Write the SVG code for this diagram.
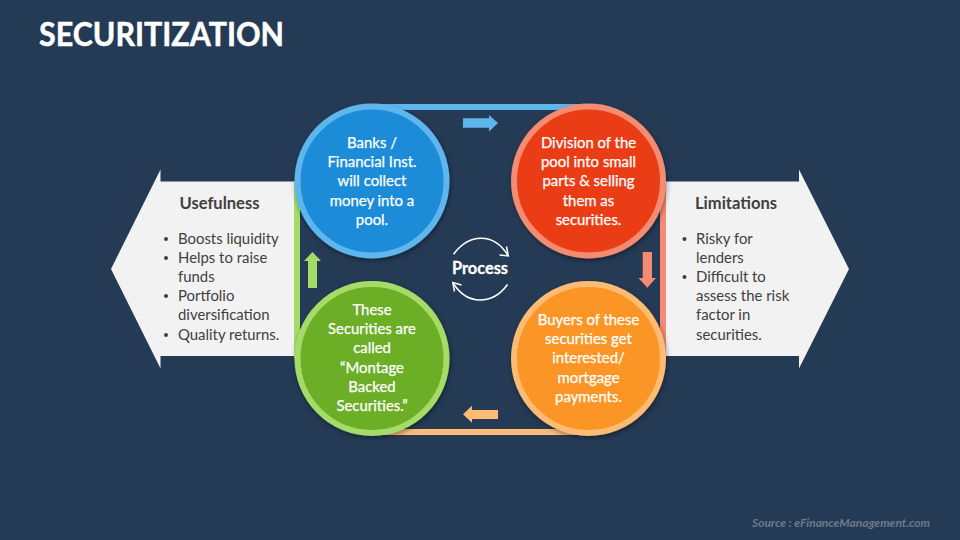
<svg xmlns="http://www.w3.org/2000/svg" width="960" height="540" viewBox="0 0 960 540">
<style>
text{font-family:"Lato","Liberation Sans",sans-serif}
.w{fill:#fff;font-size:14.9px;text-anchor:middle;stroke:#fff;stroke-width:.25px}
.d{fill:#404040;font-size:14.9px}
.h{fill:#404040;font-size:16.2px;font-weight:700}
.c{stroke-width:6;filter:url(#s)}
.f{fill:none;stroke-width:6}
.p{fill:none;stroke:#fff;stroke-width:1.5}
.b{fill:#404040}
</style>
<defs><filter id="s" x="-20%" y="-20%" width="140%" height="140%"><feDropShadow dx="1" dy="2" stdDeviation="2.5" flood-color="#000" flood-opacity=".4"/></filter></defs>
<rect width="960" height="540" fill="#243A55"/>
<text x="39" y="46" fill="#fff" stroke="#fff" stroke-width=".5" font-size="32" font-weight="700" textLength="245" lengthAdjust="spacingAndGlyphs">SECURITIZATION</text>
<g id="usefulness">
<polygon points="111,269 160.500,169.500 160.500,181.500 300,181.500 300,356 160.500,356 160.500,368.500" fill="#F2F2F2"/>
<text class="h" x="219.500" y="209" text-anchor="middle" textLength="80" lengthAdjust="spacingAndGlyphs">Usefulness</text>
<circle class="b" cx="166" cy="239" r="2"/><circle class="b" cx="166" cy="258" r="2"/><circle class="b" cx="166" cy="296" r="2"/><circle class="b" cx="166" cy="335" r="2"/>
<text class="d" x="178" y="243.500">Boosts liquidity</text>
<text class="d" x="178" y="262.700">Helps to raise</text>
<text class="d" x="178" y="281.900">funds</text>
<text class="d" x="178" y="301.100">Portfolio</text>
<text class="d" x="178" y="320.300">diversification</text>
<text class="d" x="178" y="339.500">Quality returns.</text>
</g>
<g id="limitations">
<polygon points="849,269 799,169.500 799,181.500 660,181.500 660,356 799,356 799,368.500" fill="#F2F2F2"/>
<text class="h" x="736" y="209" text-anchor="middle" textLength="82" lengthAdjust="spacingAndGlyphs">Limitations</text>
<circle class="b" cx="684.500" cy="239" r="2"/><circle class="b" cx="684.500" cy="277" r="2"/>
<text class="d" x="696" y="243.500">Risky for</text>
<text class="d" x="696" y="262.700">lenders</text>
<text class="d" x="696" y="281.900">Difficult to</text>
<text class="d" x="696" y="301.100">assess the risk</text>
<text class="d" x="696" y="320.300">factor in</text>
<text class="d" x="696" y="339.500">securities.</text>
</g>
<g id="connectors">
<path class="f" stroke="#5FB6EE" d="M372 107H588"/>
<path class="f" stroke="#F58B73" d="M663 181V358"/>
<path class="f" stroke="#FDBB73" d="M588 432H372"/>
<path class="f" stroke="#A5DC68" d="M297 358V181"/>
<polygon fill="#5FB6EE" points="463,118.300 489,118.300 489,115 498,123 489,131.500 489,127.700 463,127.700"/>
<polygon fill="#F58B73" points="642.700,252 652,252 652,278 656,278 647.300,287.700 638.500,278 642.700,278"/>
<polygon fill="#FDBB73" points="498,410 472,410 472,405.700 463,414.300 472,422.700 472,419 498,419"/>
<polygon fill="#A5DC68" points="308,288 317,288 317,261 321,261 312.500,252 304,261 308,261"/>
<path class="p" d="M453.500 254.300C462 243 472 238.300 481 238.300C491 238.300 501 244 508 255.500"/>
<path class="p" d="M506.500 246.500L508.300 256L499.500 255"/>
<path class="p" d="M507.500 284.500C500 295 490 300 480 300C470 300 460 294 453 283"/>
<path class="p" d="M454.500 291.500L452.800 282.500L461.500 285"/>
</g>
<g id="banks">
<circle class="c" cx="372" cy="181" r="74.500" fill="#1A8CD8" stroke="#5FB6EE"/>
<text class="w" x="372" y="147.500">Banks /</text>
<text class="w" x="372" y="166.700">Financial Inst.</text>
<text class="w" x="372" y="185.900">will collect</text>
<text class="w" x="372" y="205.500">money into a</text>
<text class="w" x="372" y="224.500">pool.</text>
</g>
<g id="division">
<circle class="c" cx="588.500" cy="181" r="74.500" fill="#EA3C12" stroke="#F58B73"/>
<text class="w" x="588.500" y="147.500">Division of the</text>
<text class="w" x="588.500" y="166.700">pool into small</text>
<text class="w" x="588.500" y="185.900">parts &amp; selling</text>
<text class="w" x="588.500" y="205.500">them as</text>
<text class="w" x="588.500" y="224.500">securities.</text>
</g>
<g id="buyers">
<circle class="c" cx="588.500" cy="358.500" r="74.500" fill="#FB9626" stroke="#FDBB73"/>
<text class="w" x="588.500" y="325">Buyers of these</text>
<text class="w" x="588.500" y="344.200">securities get</text>
<text class="w" x="588.500" y="363.400">interested/</text>
<text class="w" x="588.500" y="382.800">mortgage</text>
<text class="w" x="588.500" y="402">payments.</text>
</g>
<g id="securities">
<circle class="c" cx="372" cy="358.500" r="74.500" fill="#6CAE26" stroke="#A5DC68"/>
<text class="w" x="372" y="315">These</text>
<text class="w" x="372" y="334.200">Securities are</text>
<text class="w" x="372" y="353.400">called</text>
<text class="w" x="372" y="372.800">“Montage</text>
<text class="w" x="372" y="392">Backed</text>
<text class="w" x="372" y="411.200">Securities.”</text>
</g>
<g id="process"><text x="480" y="273.500" fill="#fff" stroke="#fff" stroke-width=".3" font-size="16.500" font-weight="700" text-anchor="middle" textLength="56" lengthAdjust="spacingAndGlyphs">Process</text></g>
<text x="930" y="527" fill="#6E7B8B" font-size="11" font-weight="700" font-style="italic" text-anchor="end" textLength="178" lengthAdjust="spacingAndGlyphs">Source : eFinanceManagement.com</text>
</svg>
